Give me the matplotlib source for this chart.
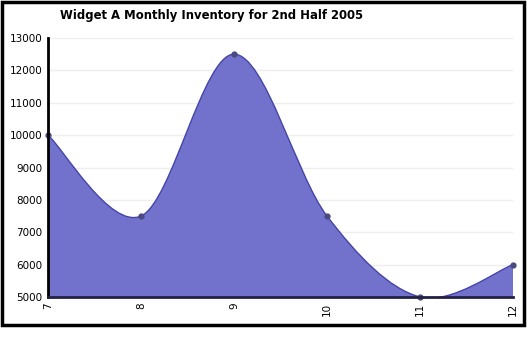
import matplotlib
matplotlib.use('Agg')
import matplotlib.pyplot as plt
from matplotlib.path import Path
from matplotlib.patches import PathPatch, Rectangle

# Data
months = [7, 8, 9, 10, 11, 12]
inventory = [10000, 7500, 12500, 7500, 5000, 6000]
y_ticks = [5000, 6000, 7000, 8000, 9000, 10000, 11000, 12000, 13000]


def spline_verts(xs, ys):
    # Catmull-Rom spline -> cubic bezier control points
    verts = [(xs[0], ys[0])]
    codes = [Path.MOVETO]
    n = len(xs)
    for i in range(n - 1):
        x0, y0 = (xs[i - 1], ys[i - 1]) if i > 0 else (xs[i], ys[i])
        x1, y1 = xs[i], ys[i]
        x2, y2 = xs[i + 1], ys[i + 1]
        x3, y3 = (xs[i + 2], ys[i + 2]) if i + 2 < n else (x2, y2)
        c1 = (x1 + (x2 - x0) / 6, y1 + (y2 - y0) / 6)
        c2 = (x2 - (x3 - x1) / 6, y2 - (y3 - y1) / 6)
        verts += [c1, c2, (x2, y2)]
        codes += [Path.CURVE4] * 3
    return verts, codes


W, H = 528, 347
fig = plt.figure(figsize=(W / 100, H / 100), dpi=100)
ax = fig.add_axes([48 / W, 1 - 297 / H, (513 - 48) / W, (297 - 38) / H])

verts, codes = spline_verts(months, inventory)
fill_verts = verts + [(months[-1], 0), (months[0], 0), verts[0]]
fill_codes = codes + [Path.LINETO, Path.LINETO, Path.CLOSEPOLY]
ax.add_patch(PathPatch(Path(fill_verts, fill_codes), facecolor='#7272cc',
                       edgecolor='none', zorder=2))
ax.add_patch(PathPatch(Path(verts, codes), facecolor='none',
                       edgecolor='#4444aa', linewidth=1, zorder=3))
ax.plot(months, inventory, 'o', color='#4a4a80', markersize=3.5, zorder=4,
        clip_on=False)

ax.set_xlim(7, 12)
ax.set_ylim(5000, 13000)
ax.set_yticks(y_ticks)
ax.set_xticks(months)
ax.set_xticklabels([str(m) for m in months], rotation=90)
ax.tick_params(length=0, labelsize=7.5, pad=4)
ax.grid(axis='y', color='#eeeeee', linewidth=1, zorder=1)
ax.set_axisbelow(True)
for s in ['top', 'right']:
    ax.spines[s].set_visible(False)
ax.spines['left'].set_linewidth(2)
ax.spines['bottom'].set_linewidth(2)
ax.spines['bottom'].set_color('#222244')
ax.spines['left'].set_zorder(5)
ax.spines['bottom'].set_zorder(5)

fig.text(60 / W, 1 - 15 / H, 'Widget A Monthly Inventory for 2nd Half 2005',
         fontsize=8.4, fontweight='bold', ha='left', va='center')

fig.patches.append(Rectangle((1.5 / W, 1 - 324.5 / H), 522.5 / W, 323 / H,
                             transform=fig.transFigure, fill=False,
                             edgecolor='black', linewidth=2.5))

fig.savefig('out.png', dpi=100)
